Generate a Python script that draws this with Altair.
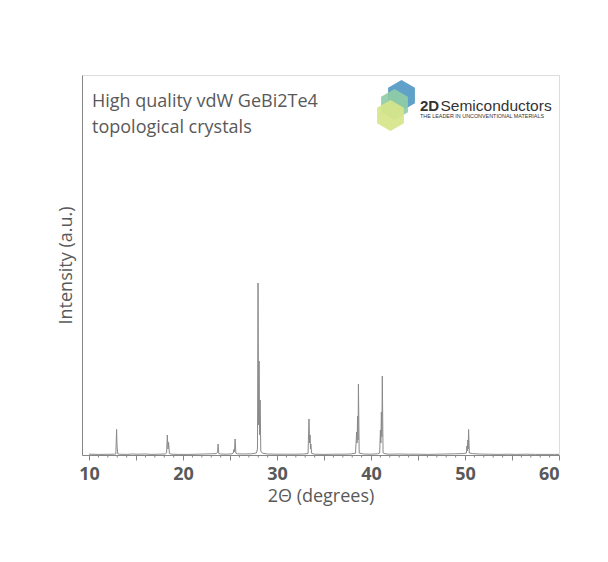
import altair as alt
import pandas as pd

# XRD pattern (2-theta in degrees, intensity in arbitrary units)
two_theta = [
    10.0, 11.0, 12.0, 12.7,
    12.85, 12.93, 12.98, 13.05, 13.2,
    14.0, 14.6, 15.2, 16.0, 16.6, 17.4, 18.1,
    18.25, 18.33, 18.4, 18.46, 18.55, 18.8,
    19.5, 20.5, 21.5, 22.3, 23.0, 23.55,
    23.68, 23.73, 23.8, 24.0, 24.6, 25.2,
    25.35, 25.42, 25.47, 25.54, 25.62, 25.8,
    26.5, 27.3, 27.8, 27.92, 27.98, 28.04, 28.09, 28.15, 28.2, 28.27, 28.45,
    29.0, 30.0, 31.0, 32.0, 32.8, 33.3,
    33.4, 33.46, 33.52, 33.56, 33.6, 33.68, 34.0,
    35.0, 36.0, 37.0, 37.8, 38.35,
    38.47, 38.52, 38.57, 38.62, 38.66, 38.74, 39.2,
    40.0, 40.7, 40.92, 41.0, 41.05, 41.1, 41.15, 41.2, 41.28, 41.5,
    42.0, 43.0, 44.0, 45.0, 46.0, 47.0, 48.0, 49.0, 49.8,
    50.15, 50.2, 50.25, 50.3, 50.34, 50.38, 50.46, 50.8,
    51.5, 52.5, 53.5, 54.5, 55.5, 56.5, 57.5, 58.5, 59.5, 60.0,
]
intensity = [
    8, 6, 7, 8,
    10, 256, 90, 12, 8,
    6, 10, 8, 10, 6, 8, 10,
    20, 200, 60, 126, 15, 8,
    6, 6, 8, 10, 12, 14,
    30, 110, 15, 10, 8, 12,
    20, 56, 30, 160, 18, 12,
    10, 12, 20, 60, 1720, 300, 940, 200, 550, 40, 18,
    10, 8, 8, 8, 10, 14,
    360, 120, 200, 60, 110, 16, 8,
    6, 8, 8, 10, 18,
    230, 120, 390, 150, 710, 20, 10,
    8, 12, 20, 250, 120, 430, 180, 790, 22, 12,
    8, 10, 8, 8, 6, 8, 10, 12, 14,
    20, 90, 40, 150, 60, 255, 20, 14,
    10, 8, 6, 8, 6, 8, 6, 6, 6, 6,
]
assert len(two_theta) == len(intensity)

major_ticks = [10, 15, 20, 25, 30, 35, 40, 45, 50, 55, 60]
minor_ticks = [v for v in range(10, 61) if v % 5 != 0]
title_lines = ["High quality vdW GeBi2Te4", "topological crystals"]
logo_name = ["2D", "Semiconductors"]
logo_tagline = "THE LEADER IN UNCONVENTIONAL MATERIALS"
hex_colors = ["#5199c3", "#90cca6", "#d6e58a"]

df = pd.DataFrame({"two_theta": two_theta, "intensity": intensity})
minor_df = pd.DataFrame({"tick": minor_ticks})

W, H = 477, 380
GRAY = "#595959"
AXIS_GRAY = "#868686"
FONT = "Open Sans"

x_scale = alt.Scale(domain=[9.25, 60], nice=False, zero=False)
y_scale = alt.Scale(domain=[0, 3800], nice=False)

line = alt.Chart(df).mark_line(color="#8a8a8a", strokeWidth=1, clip=True).encode(
    x=alt.X(
        "two_theta:Q",
        scale=x_scale,
        title="2\u0398 (degrees)",
        axis=alt.Axis(
            values=major_ticks,
            labelExpr="datum.value % 10 === 0 ? datum.label : ''",
            labelOverlap=False,
            labelFont=FONT,
            labelFontSize=18,
            labelFontWeight="bold",
            labelColor=GRAY,
            labelPadding=5,
            tickSize=5,
            tickColor=AXIS_GRAY,
            domainColor=AXIS_GRAY,
            grid=False,
            titleFont=FONT,
            titleFontSize=18,
            titleFontWeight="normal",
            titleColor=GRAY,
            titlePadding=4,
        ),
    ),
    y=alt.Y(
        "intensity:Q",
        scale=y_scale,
        title="Intensity (a.u.)",
        axis=alt.Axis(
            labels=False,
            ticks=False,
            grid=False,
            domainColor=AXIS_GRAY,
            titleFont=FONT,
            titleFontSize=18,
            titleFontWeight="normal",
            titleColor=GRAY,
            titlePadding=7,
        ),
    ),
)

minor = alt.Chart(minor_df).mark_rule(color=AXIS_GRAY, strokeWidth=1).encode(
    x=alt.X("tick:Q", scale=x_scale),
    y=alt.value(H),
    y2=alt.value(H + 2.5),
)

one = pd.DataFrame({"k": [0]})

t1 = alt.Chart(one).mark_text(
    text=title_lines[0], align="left", baseline="alphabetic", font=FONT, fontSize=18, color=GRAY
).encode(x=alt.value(10), y=alt.value(32))
t2 = alt.Chart(one).mark_text(
    text=title_lines[1], align="left", baseline="alphabetic", font=FONT, fontSize=18, color=GRAY
).encode(x=alt.value(10), y=alt.value(58))

HEX = "M0,-1L0.866,-0.5L0.866,0.5L0,1L-0.866,0.5L-0.866,-0.5Z"
hex_layers = []
for col, (hx, hy) in zip(hex_colors, [(319.5, 20.5), (312.5, 29.5), (308.5, 40.5)]):
    hex_layers.append(
        alt.Chart(one).mark_point(shape=HEX, filled=True, size=960, color=col, opacity=0.92, strokeWidth=0)
        .encode(x=alt.value(hx), y=alt.value(hy))
    )

logo_2d = alt.Chart(one).mark_text(
    text=logo_name[0], align="left", baseline="alphabetic", font="Liberation Sans",
    fontSize=15, fontWeight="bold", color="#333333"
).encode(x=alt.value(338), y=alt.value(36))
logo_semi = alt.Chart(one).mark_text(
    text=logo_name[1], align="left", baseline="alphabetic", font="Liberation Sans",
    fontSize=15.5, color="#333333"
).encode(x=alt.value(358.5), y=alt.value(36))
logo_tag = alt.Chart(one).mark_text(
    text=logo_tagline, align="left", baseline="alphabetic", font="Liberation Sans",
    fontSize=5.4, color="#333333"
).encode(x=alt.value(338), y=alt.value(43))

chart = alt.layer(line, minor, t1, t2, *hex_layers, logo_2d, logo_semi, logo_tag).properties(
    width=W,
    height=H,
    padding={"left": 82, "top": 75, "right": 49, "bottom": 107},
    autosize=alt.AutoSizeParams(type="none"),
).configure_view(stroke=AXIS_GRAY, strokeWidth=1).configure(background="white")

chart.save("out.html", embed_options={"renderer": "svg", "actions": False})
